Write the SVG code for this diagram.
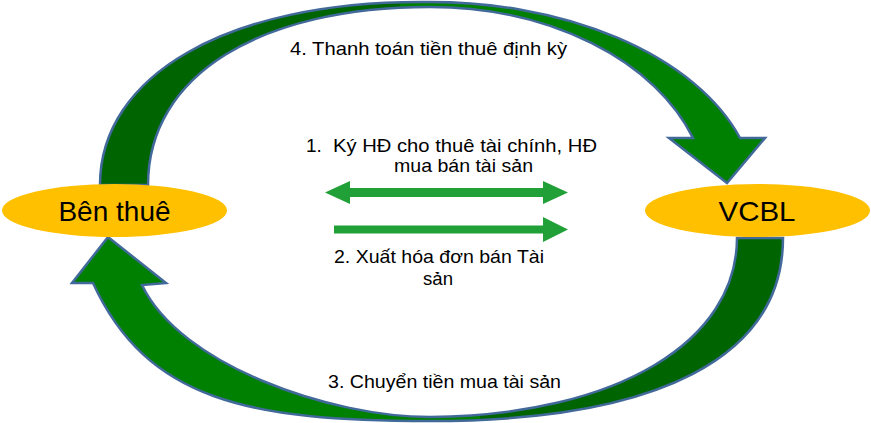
<svg xmlns="http://www.w3.org/2000/svg" width="871" height="423" viewBox="0 0 871 423">
<style>
.band{fill:#008000;stroke:none}
.dark{fill:#006400;stroke:none}
.edge{fill:none;stroke:#41699A;stroke-width:2.5;stroke-linejoin:miter}
.flat{fill:#21A038;stroke:none}
.node{fill:#FFC000;stroke:none}
.nt{font-family:"Liberation Sans",Arial,sans-serif;font-size:28px;fill:#000;text-anchor:middle}
.lb{font-family:"Liberation Sans",Arial,sans-serif;font-size:19px;fill:#000}
</style>
<defs>
<path id="topBand" d="M100,185 C100,75 228,2 420,2 A326,198 0 0 1 740,138 L765,138 L727,183 L669,138 L693,138 A278,193 0 0 0 430,7 C260,7 148,75 148,185 Z"/>
<path id="botBand" d="M737,238 L783,238 C783,357 659,421 430,421 C250,421 147,401 93,283 L72,283 L108,237 L166,283 L142,285 C180,365 330,417 430,417 C620,415 737,340 737,238 Z"/>
<clipPath id="clipLeft"><rect x="0" y="0" width="400" height="423"/></clipPath>
<clipPath id="clipRight"><rect x="480" y="0" width="391" height="423"/></clipPath>
</defs>
<rect width="871" height="423" fill="#fff"/>
<g id="connectors">
<g id="arc-payment">
<use href="#topBand" class="band"/>
<use href="#topBand" class="dark" clip-path="url(#clipLeft)"/>
<use href="#topBand" class="edge"/>
</g>
<g id="arc-transfer">
<use href="#botBand" class="band"/>
<use href="#botBand" class="dark" clip-path="url(#clipRight)"/>
<use href="#botBand" class="edge"/>
</g>
<path id="arrow-contract" class="flat" d="M325,192.5 L350,181 L350,188 L543,188 L543,181 L568,192.5 L543,204 L543,197 L350,197 L350,204 Z"/>
<path id="arrow-invoice" class="flat" d="M334,225.5 L543,225.5 L543,217 L568,229.5 L543,242 L543,233.5 L334,233.5 Z"/>
</g>
<g id="node-ben-thue">
<ellipse class="node" cx="114.5" cy="210.5" rx="112.5" ry="26.5"/>
<text class="nt" x="114.5" y="221">Bên thuê</text>
</g>
<g id="node-vcbl">
<ellipse class="node" cx="757.5" cy="210.5" rx="112.5" ry="26.5"/>
<text class="nt" x="757" y="221" textLength="77" lengthAdjust="spacingAndGlyphs">VCBL</text>
</g>
<g id="labels">
<text class="lb" x="290" y="55" textLength="277" lengthAdjust="spacingAndGlyphs">4. Thanh toán tiền thuê định kỳ</text>
<text class="lb" y="152"><tspan x="306">1.</tspan><tspan x="333" textLength="264" lengthAdjust="spacingAndGlyphs">Ký HĐ cho thuê tài chính, HĐ</tspan></text>
<text class="lb" x="394" y="172" textLength="139" lengthAdjust="spacingAndGlyphs">mua bán tài sản</text>
<text class="lb" x="334" y="263" textLength="210" lengthAdjust="spacingAndGlyphs">2. Xuất hóa đơn bán Tài</text>
<text class="lb" x="423" y="285" textLength="30" lengthAdjust="spacingAndGlyphs">sản</text>
<text class="lb" x="328" y="388" textLength="233" lengthAdjust="spacingAndGlyphs">3. Chuyển tiền mua tài sản</text>
</g>
</svg>
